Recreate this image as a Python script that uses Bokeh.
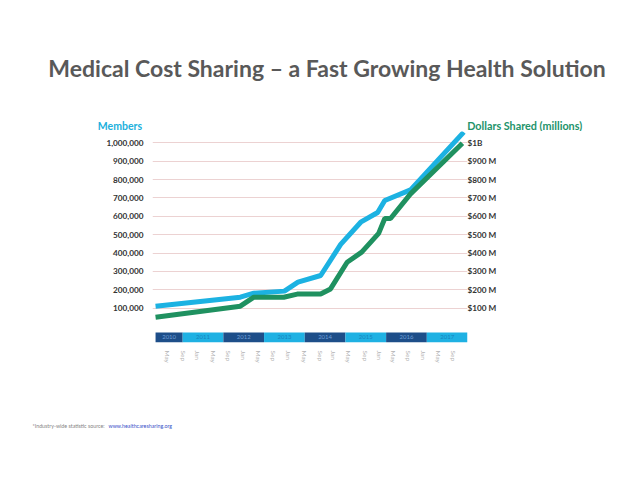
from bokeh.plotting import figure
from bokeh.layouts import column
from bokeh.models import (Range1d, LinearAxis, FixedTicker, NumeralTickFormatter,
                          ColumnDataSource)
from bokeh.core.properties import value
from bokeh.embed import file_html
from bokeh.resources import INLINE

# ---------------- data ----------------
# x = months since May 2010
members_month = [0, 25, 29, 38, 42, 48.7, 54.6, 60.5, 65.5, 67.6, 75.2, 90.9]
members = [111000, 160000, 182000, 193000, 242000, 278000, 447000, 568000,
           621000, 686000, 744000, 1058000]

dollars_month = [0, 25, 29, 37.8, 41.8, 48.7, 51.6, 56.5, 60.8, 65.8, 67.6, 69.3, 75.2, 90.5]
dollars = [51, 111, 160, 160, 177, 177, 205, 350, 405, 507, 588, 588, 722, 998]  # $ millions

years = ["2010", "2011", "2012", "2013", "2014", "2015", "2016", "2017"]
year_start = [0, 8, 20, 32, 44, 56, 68, 80]
year_end = [8, 20, 32, 44, 56, 68, 80, 92]

tick_months = [3.45, 8.35, 12.3, 17.2, 21.6, 26.0, 30.5, 34.9, 39.3, 44.0,
               48.7, 52.6, 57.0, 61.9, 65.9, 70.3, 74.7, 79.1, 83.5, 87.9]
tick_labels = ["May", "Sep", "Jan", "May", "Sep", "Jan", "May", "Sep", "Jan", "May",
               "Sep", "Jan", "May", "Sep", "Jan", "May", "Sep", "Jan", "May", "Sep"]

member_ticks = [100000, 200000, 300000, 400000, 500000, 600000, 700000, 800000, 900000, 1000000]
dollar_ticks = [100, 200, 300, 400, 500, 600, 700, 800, 900, 1000]
dollar_labels = ["$100 M", "$200 M", "$300 M", "$400 M", "$500 M", "$600 M",
                 "$700 M", "$800 M", "$900 M", "$1B"]

title_text = "Medical Cost Sharing \u2013 a Fast Growing Health Solution"
left_title = "Members"
right_title = "Dollars Shared (millions)"
source_prefix = "*Industry-wide statistic source:"
source_link = "www.healthcaresharing.org"

# ---------------- styling constants ----------------
BLUE = "#1cb2e2"
GREEN = "#1f9160"
DARK_BAND = "#1d4e89"
LIGHT_BAND = "#1fb1e3"
FONT = "Lato"
W = 630
HEAD_H = 131
MAIN_H = 269
FOOT_H = 60
Y0, Y1 = -86500, 1061500


def blank(h):
    f = figure(width=W, height=h, output_backend="svg", toolbar_location=None,
               x_range=Range1d(0, W), y_range=Range1d(h, 0),
               min_border=0, outline_line_color=None,
               background_fill_color="white", border_fill_color="white")
    f.axis.visible = False
    f.grid.visible = False
    f.frame_align = False
    return f


# ---------------- header ----------------
head = blank(HEAD_H)
head.text(x=[326.5], y=[67], text=[title_text], text_font=value(FONT),
          text_font_style="bold", text_font_size="23px", text_color="#595959",
          text_align="center", text_baseline="middle")
head.text(x=[97.3], y=[125], text=[left_title], text_font=value(FONT),
          text_font_style="bold", text_font_size="10.5px", text_color="#21b0dc",
          text_align="left", text_baseline="middle")
head.text(x=[466.7], y=[125], text=[right_title], text_font=value(FONT),
          text_font_style="bold", text_font_size="10.8px", text_color="#23936a",
          text_align="left", text_baseline="middle")

# ---------------- main chart ----------------
p = figure(width=W, height=MAIN_H, output_backend="svg", toolbar_location=None,
           x_range=Range1d(-0.9, 92), y_range=Range1d(Y0, Y1),
           min_border_left=152, min_border_right=W - 467, min_border_top=0,
           min_border_bottom=MAIN_H - 211, outline_line_color=None,
           background_fill_color="white", border_fill_color="white")
p.frame_align = False
p.extra_y_ranges = {"dollars": Range1d(Y0 / 1000, Y1 / 1000)}

p.xaxis.visible = False
p.yaxis.visible = False
p.xgrid.visible = False
p.ygrid.ticker = FixedTicker(ticks=member_ticks)
p.ygrid.grid_line_color = "#ecd2d2"
p.ygrid.grid_line_width = 1


def style_axis(ax, standoff, size):
    ax.axis_line_color = None
    ax.major_tick_line_color = None
    ax.minor_tick_line_color = None
    ax.major_tick_out = 0
    ax.major_tick_in = 0
    ax.minor_tick_out = 0
    ax.minor_tick_in = 0
    ax.major_label_text_font = FONT
    ax.major_label_text_font_style = "bold"
    ax.major_label_text_font_size = size
    ax.major_label_text_color = "#333333"
    ax.major_label_standoff = standoff


left = LinearAxis(ticker=FixedTicker(ticks=member_ticks),
                  formatter=NumeralTickFormatter(format="0,0"))
style_axis(left, 9, "8.2px")
p.add_layout(left, "left")

right = LinearAxis(y_range_name="dollars", ticker=FixedTicker(ticks=dollar_ticks),
                   major_label_overrides={t: l for t, l in zip(dollar_ticks, dollar_labels)})
style_axis(right, 0, "8.2px")
p.add_layout(right, "right")

bottom = LinearAxis(ticker=FixedTicker(ticks=tick_months),
                    major_label_overrides={t: l for t, l in zip(tick_months, tick_labels)})
style_axis(bottom, 8, "6.5px")
bottom.major_label_text_font_style = "normal"
bottom.major_label_text_color = "#b3b3b3"
bottom.major_label_orientation = "vertical"
p.add_layout(bottom, "below")

# year band
band_colors = [DARK_BAND if i % 2 == 0 else LIGHT_BAND for i in range(len(years))]
band_text_colors = ["#6f9ed6" if i % 2 == 0 else "#1784bd" for i in range(len(years))]
band = ColumnDataSource(dict(
    left=year_start, right=year_end, color=band_colors, tcolor=band_text_colors,
    mid=[(a + b) / 2 for a, b in zip(year_start, year_end)], label=years))
p.quad(left="left", right="right", bottom=-86500, top=-32000, color="color",
       line_color=None, source=band)
p.text(x="mid", y=-59000, text="label", text_color="tcolor", text_font=value(FONT),
       text_font_size="6px", text_align="center", text_baseline="middle", source=band)

# lines
p.line(members_month, members, line_color=BLUE, line_width=5)
p.line(dollars_month, dollars, line_color=GREEN, line_width=5, y_range_name="dollars")

# ---------------- footer ----------------
foot = blank(FOOT_H)
foot.text(x=[32], y=[25.7], text=[source_prefix], text_font=value(FONT),
          text_font_size="5.3px", text_color="#858585",
          text_align="left", text_baseline="middle")
foot.text(x=[108], y=[25.7], text=[source_link], text_font=value(FONT),
          text_font_size="5.3px", text_color="#3850c8",
          text_align="left", text_baseline="middle")

layout = column(head, p, foot, spacing=0)
open("out.html", "w").write(file_html(layout, INLINE))
